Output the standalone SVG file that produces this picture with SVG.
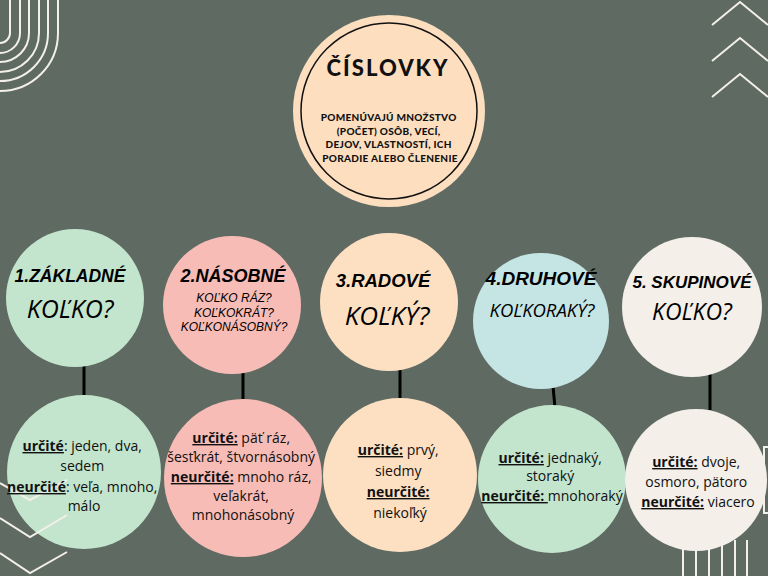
<svg xmlns="http://www.w3.org/2000/svg" width="768" height="576" viewBox="0 0 768 576">
<defs>
<style>
.deco{fill:none;stroke:#f3efe9;stroke-width:2}
.conn{stroke:#000;stroke-width:3;fill:none}
.ttl{font-family:"Liberation Sans",Arial,sans-serif;font-weight:bold;font-style:italic;text-anchor:middle;fill:#000}
.q{font-family:"Open Sans","Liberation Sans",sans-serif;font-style:italic;text-anchor:middle;fill:#000}
.qs{font-family:"Liberation Sans",Arial,sans-serif;font-style:italic;text-anchor:middle;fill:#000;font-size:12px}
.b{font-family:"Open Sans","Liberation Sans",sans-serif;text-anchor:middle;fill:#111;font-size:14px}
.u{font-weight:bold;text-decoration:underline}
.h{font-family:Lato,"Liberation Sans",sans-serif;font-weight:900;text-anchor:middle;fill:#111}
</style>
</defs>
<rect width="768" height="576" fill="#5f6b62"/>

<g id="decor-back">
<path class="deco" d="M683,540V576M696,540V576M709,540V576M722,540V576M735,540V576M747,540V576"/>
<path class="deco" d="M768,447H764V513H768"/>
<path class="deco" d="M10,0V33A10,10 0 0 1 0,43"/>
<path class="deco" d="M20,0V33A20,20 0 0 1 0,53"/>
<path class="deco" d="M29,0V33A29,29 0 0 1 0,62"/>
<path class="deco" d="M39,0V33A39,39 0 0 1 0,72"/>
<path class="deco" d="M48,0V33A48,48 0 0 1 0,81"/>
<path class="deco" d="M58,0V33A58,58 0 0 1 0,91"/>
<path class="deco" d="M712,25L740,2L768,25M712,61L740,38L768,61M712,97L740,74L768,97"/>
</g>

<g id="connectors">
<line class="conn" x1="84" y1="360" x2="84" y2="400"/>
<line class="conn" x1="243" y1="365" x2="243" y2="402"/>
<line class="conn" x1="400" y1="365" x2="400" y2="402"/>
<line class="conn" x1="552" y1="375" x2="555" y2="408"/>
<line class="conn" x1="710" y1="365" x2="710" y2="410"/>
</g>

<g id="top">
<circle cx="389" cy="111" r="96" fill="#fddfc0"/>
<circle cx="389" cy="111" r="88" fill="none" stroke="#111" stroke-width="1.5"/>
<text class="h" x="388" y="76" font-size="22" letter-spacing="2">ČÍSLOVKY</text>
<text class="h" font-size="10" letter-spacing="0.3">
<tspan x="390" y="121">POMENÚVAJÚ MNOŽSTVO</tspan>
<tspan x="390" y="134.5">(POČET) OSÔB, VECÍ,</tspan>
<tspan x="390" y="148">DEJOV, VLASTNOSTÍ, ICH</tspan>
<tspan x="390" y="161.5">PORADIE ALEBO ČLENENIE</tspan>
</text>
</g>

<g id="n1">
<circle cx="75" cy="298" r="69" fill="#c3e5cd"/>
<text class="ttl" x="70" y="282" font-size="17.5">1.ZÁKLADNÉ</text>
<text class="q" x="70" y="318" font-size="25">KOĽKO?</text>
</g>
<g id="n2">
<circle cx="232" cy="305" r="69" fill="#f8bcb6"/>
<text class="ttl" x="233" y="282" font-size="18">2.NÁSOBNÉ</text>
<text class="qs" x="234" y="302">KOĽKO RÁZ?</text>
<text class="qs" x="234" y="316.5">KOĽKOKRÁT?</text>
<text class="qs" x="234" y="331">KOĽKONÁSOBNÝ?</text>
</g>
<g id="n3">
<circle cx="389" cy="302" r="69" fill="#fde0c2"/>
<text class="ttl" x="383" y="287" font-size="18.5">3.RADOVÉ</text>
<text class="q" x="387" y="325" font-size="26">KOĽKÝ?</text>
</g>
<g id="n4">
<circle cx="541" cy="321" r="68" fill="#c5e5e4"/>
<text class="ttl" x="541" y="285" font-size="19">4.DRUHOVÉ</text>
<text class="q" x="542" y="317" font-size="18.5">KOĽKORAKÝ?</text>
</g>
<g id="n5">
<circle cx="692" cy="307" r="70" fill="#f4efe9"/>
<text class="ttl" x="692" y="288" font-size="17">5. SKUPINOVÉ</text>
<text class="q" x="692" y="320" font-size="23">KOĽKO?</text>
</g>

<g id="m1">
<circle cx="84" cy="472" r="77" fill="#c3e5cd"/>
<path class="deco" d="M0,483L30,500L67,480M0,518L30,537L67,515M0,553L30,573L67,552"/>
<text class="b" font-size="13.5">
<tspan x="84" y="451"><tspan class="u">určité</tspan>: jeden, dva,</tspan>
<tspan x="84" y="471">sedem</tspan>
<tspan x="84" y="492"><tspan class="u">neurčité</tspan>: veľa, mnoho,</tspan>
<tspan x="84" y="511">málo</tspan>
</text>
</g>
<g id="m2">
<circle cx="243" cy="478" r="79" fill="#f8bcb6"/>
<text class="b">
<tspan x="243" y="443"><tspan class="u">určité:</tspan> päť ráz,</tspan>
<tspan x="243" y="462">šesťkrát, štvornásobný</tspan>
<tspan x="243" y="482"><tspan class="u">neurčité:</tspan> mnoho ráz,</tspan>
<tspan x="243" y="501">veľakrát,</tspan>
<tspan x="243" y="520">mnohonásobný</tspan>
</text>
</g>
<g id="m3">
<circle cx="400" cy="475" r="77" fill="#fde0c2"/>
<text class="b" font-size="16">
<tspan x="400" y="455"><tspan class="u">určité:</tspan> prvý,</tspan>
<tspan x="400" y="476">siedmy</tspan>
<tspan x="400" y="497" class="u">neurčité:</tspan>
<tspan x="400" y="518">niekoľký</tspan>
</text>
</g>
<g id="m4">
<circle cx="552" cy="479" r="74" fill="#c3e5cd"/>
<text class="b">
<tspan x="552" y="463"><tspan class="u">určité:</tspan> jednaký,</tspan>
<tspan x="552" y="481">storaký</tspan>
<tspan x="552" y="501"><tspan class="u">neurčité: </tspan>mnohoraký</tspan>
</text>
</g>
<g id="m5">
<circle cx="696" cy="480" r="71" fill="#f4efe9"/>
<text class="b">
<tspan x="698" y="467"><tspan class="u">určité:</tspan>  dvoje,</tspan>
<tspan x="698" y="487">osmoro, pätoro</tspan>
<tspan x="698" y="507"><tspan class="u">neurčité:</tspan> viacero</tspan>
</text>
</g>
</svg>
